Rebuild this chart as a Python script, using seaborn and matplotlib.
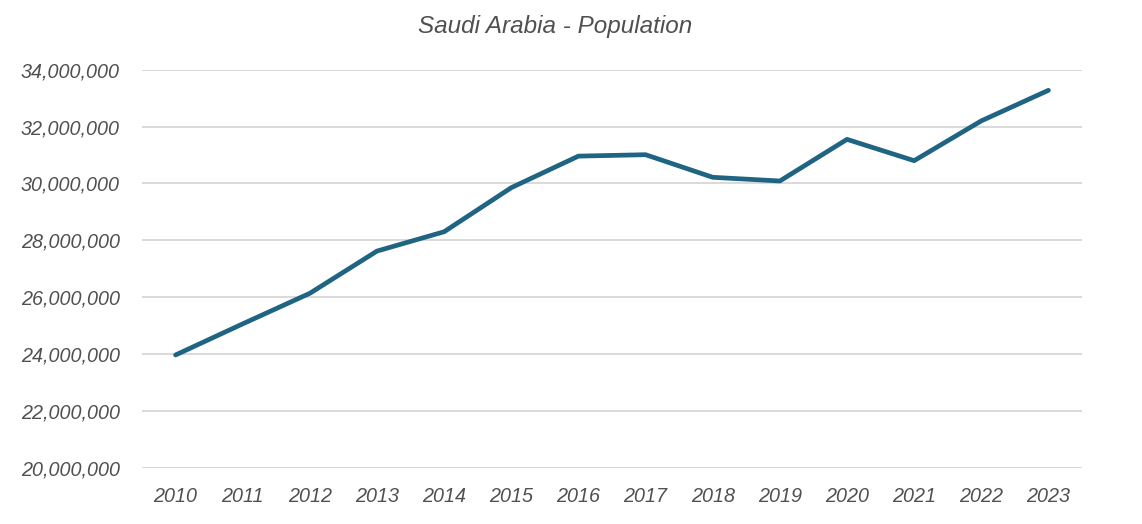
import matplotlib
matplotlib.use("Agg")
import matplotlib.pyplot as plt
import seaborn as sns
import pandas as pd
from matplotlib.ticker import FuncFormatter

years = [2010, 2011, 2012, 2013, 2014, 2015, 2016, 2017, 2018, 2019, 2020, 2021, 2022, 2023]
population = [23965000, 25060000, 26135000, 27620000, 28300000, 29850000, 30960000,
              31010000, 30215000, 30085000, 31550000, 30800000, 32200000, 33275000]
y_ticks = [20000000, 22000000, 24000000, 26000000, 28000000, 30000000, 32000000, 34000000]
title = "Saudi Arabia - Population"

df = pd.DataFrame({"Year": years, "Population": population})

sns.set_theme(style="white")
plt.rcParams['font.family'] = ['Liberation Sans', 'DejaVu Sans']

fig = plt.figure(figsize=(11.42, 5.24), dpi=100)
ax = fig.add_axes([142/1142, 1 - 467.7/524, (1082 - 142)/1142, (467.7 - 69.7)/524])

sns.lineplot(data=df, x="Year", y="Population", ax=ax, color="#1F6482",
             linewidth=3.4, solid_capstyle="round", solid_joinstyle="round", zorder=3)

ax.set_xlim(years[0] - 0.5, years[-1] + 0.5)
ax.set_ylim(y_ticks[0], y_ticks[-1])
ax.set_xticks(years)
ax.set_yticks(y_ticks)
ax.yaxis.set_major_formatter(FuncFormatter(lambda v, p: f"{int(v):,}"))
ax.set_xlabel("")
ax.set_ylabel("")

ax.grid(axis="y", color="#D9D9D9", linewidth=1.4, zorder=0)
ax.grid(axis="x", visible=False)
for s in ax.spines.values():
    s.set_visible(False)

ax.tick_params(axis="both", length=0, labelsize=14.2, labelcolor="#505050")
ax.tick_params(axis="y", pad=16)
ax.tick_params(axis="x", pad=14)
for lbl in ax.get_xticklabels() + ax.get_yticklabels():
    lbl.set_style("italic")

fig.text(555/1142, 1 - 26.5/524, title, ha="center", va="center",
         fontsize=17.5, style="italic", color="#505050")

fig.savefig("out.png", dpi=100, facecolor="white")
